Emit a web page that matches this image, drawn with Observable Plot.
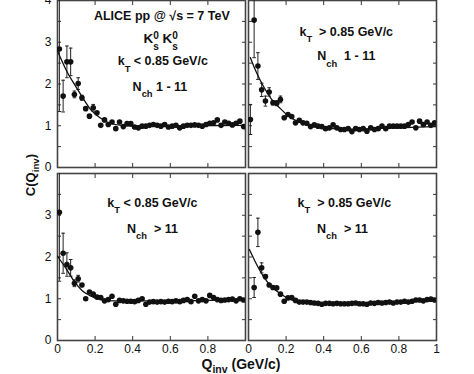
<!DOCTYPE html>
<html><head><meta charset="utf-8">
<script src="https://cdn.jsdelivr.net/npm/d3@7"></script>
<script src="https://cdn.jsdelivr.net/npm/@observablehq/plot@0.6"></script>
<style>
html,body{margin:0;padding:0;background:#fff;}
#chart{width:474px;height:374px;overflow:hidden;}
</style></head><body><div id="chart"></div>
<script>
// ---- data ----
const qBins = [0.01,0.03,0.05,0.07,0.09,0.11,0.13,0.15,0.17,0.19,0.21,0.23,0.25,0.27,0.29,0.31,0.33,0.35,0.37,0.39,0.41,0.43,0.45,0.47,0.49,0.51,0.53,0.55,0.57,0.59,0.61,0.63,0.65,0.67,0.69,0.71,0.73,0.75,0.77,0.79,0.81,0.83,0.85,0.87,0.89,0.91,0.93,0.95,0.97,0.99];

// kT < 0.85, Nch 1-11
const cTL = [2.84,1.71,2.53,2.53,1.75,2.01,1.67,1.41,1.23,1.43,1.31,1.01,1.14,1.03,1.09,0.93,1.09,0.98,1.05,1.05,0.97,0.95,0.99,0.99,1.01,1.03,1.01,0.99,1.03,0.97,0.99,1.01,0.95,0.99,1.01,1.01,1.02,1.01,0.99,1.03,1.06,1.07,1.14,1.01,1.09,1.06,1.02,1.06,1.11,0.98];
const eTL = [1.5,0.38,0.38,0.33,0.08,0.14,0.06,0.04,0.04,0.08];
// kT > 0.85, Nch 1-11
const cTR = [1.15,3.53,2.43,1.86,1.59,1.81,1.55,1.54,1.63,1.19,1.27,1.22,1.07,1.13,1.07,1.06,0.98,1.02,0.99,0.98,0.93,0.95,1.02,0.95,0.91,0.91,0.93,0.86,0.93,0.91,0.93,0.87,0.95,0.91,0.93,0.99,0.93,0.99,0.99,0.99,0.99,0.99,1.03,1.09,0.95,1.11,1.03,1.09,1.01,1.07];
const eTR = [0.36,0.9,0.32,0.16,0.12,0.1,0.05,0.06,0.08];
// kT < 0.85, Nch > 11
const cBL = [3.07,2.09,1.82,1.74,1.37,1.48,1.33,1.00,1.16,1.11,1.04,1.03,0.95,0.98,1.06,0.87,0.96,0.95,0.94,0.94,0.93,0.96,1.00,0.87,0.92,0.93,0.92,0.93,0.92,0.94,0.93,0.95,0.93,0.96,0.98,0.93,1.06,0.95,0.98,0.95,1.08,1.03,0.98,0.96,0.97,0.98,0.99,0.95,1.00,0.97];
const eBL = [1.65,0.48,0.28,0.2,0.08,0.08];
// kT > 0.85, Nch > 11
const cBR = [null,1.27,2.59,1.74,1.53,1.33,1.27,1.26,1.11,0.94,1.02,1.03,0.96,0.92,0.92,0.92,0.91,0.90,0.89,0.87,0.89,0.89,0.88,0.89,0.88,0.88,0.88,0.89,0.90,0.88,0.88,0.87,0.90,0.89,0.91,0.90,0.91,0.92,0.90,0.92,0.92,0.94,0.92,0.94,0.97,0.97,0.95,0.98,0.99,0.97];
const eBR = [0,0.24,0.34,0.12,0.05];

// fit curves
const fitQTL = [0,0.05,0.10,0.13,0.18,0.23,0.28,0.34,0.45,0.70,1.00];
const fitCTL = [2.79,2.30,1.92,1.70,1.37,1.18,1.06,1.01,0.99,1.00,1.01];
const fitQTR = [0.01,0.04,0.08,0.12,0.17,0.21,0.26,0.30,0.35,0.44,0.55,0.65,0.80,1.00];
const fitCTR = [2.63,2.30,1.94,1.65,1.41,1.24,1.11,1.03,0.98,0.93,0.92,0.93,0.95,0.98];
const fitQBL = [0,0.05,0.09,0.13,0.17,0.23,0.30,0.50,0.80,1.00];
const fitCBL = [2.02,1.69,1.41,1.20,1.08,0.98,0.95,0.95,0.96,0.97];
const fitQBR = [0.005,0.04,0.08,0.12,0.17,0.21,0.26,0.33,0.50,0.65,0.80,1.00];
const fitCBR = [2.18,1.85,1.53,1.30,1.12,1.01,0.94,0.91,0.90,0.90,0.93,0.96];

// panels & texts
const panelCol = ["lo","hi","lo","hi"];
const panelRow = ["a","a","b","b"];
const ktText = ["k_{T} < 0.85 GeV/c","k_{T}  > 0.85 GeV/c","k_{T} < 0.85 GeV/c","k_{T}  > 0.85 GeV/c"];
const nchText = ["N_{ch} 1 - 11","N_{ch}  1 - 11","N_{ch}  > 11","N_{ch}  > 11"];
const experimentText = ["ALICE pp @ √s = 7 TeV"];
const pairText = ["K^{0}_{s} K^{0}_{s}"];
const yTitle = "C(Q_{inv})";
const xTitle = "Q_{inv} (GeV/c)";

// ticks
const yLabelTicks = [0,1,2,3];
const yTopExtraLabel = [4];
const xLabelTicks = [0,0.2,0.4,0.6,0.8];
const xRightExtraLabel = [1];
const yMinorTicks = [0,0.5,1,1.5,2,2.5,3,3.5,4];
const xMinorTicks = [0,0.2,0.4,0.6,0.8,1];

// ---- tables ----
const panels = [
  {c:cTL,e:eTL,fq:fitQTL,fc:fitCTL},
  {c:cTR,e:eTR,fq:fitQTR,fc:fitCTR},
  {c:cBL,e:eBL,fq:fitQBL,fc:fitCBL},
  {c:cBR,e:eBR,fq:fitQBR,fc:fitCBR}
];
const rows = [], fitRows = [];
panels.forEach((p,k) => {
  qBins.forEach((q,i) => { if (p.c[i] != null) rows.push({col:panelCol[k], row:panelRow[k], q, c:p.c[i], e:p.e[i] || 0}); });
  p.fq.forEach((q,i) => fitRows.push({col:panelCol[k], row:panelRow[k], q, c:p.fc[i]}));
});
const errRows = rows.filter(d => d.e > 0);
const cap = {draw(ctx, size){ const w = Math.sqrt(size/Math.PI); ctx.moveTo(-w,0); ctx.lineTo(w,0); }};
const idx = [0,1,2,3];
const ktX = [0.56,0.52,0.505,0.51], ktY = [2.54,3.25,3.30,3.30];
const nchX = [0.545,0.52,0.505,0.50], nchY = [1.94,2.66,2.67,2.67];
const fmt = d3.format("~g");

const tickStyle = {stroke:"#333", strokeWidth:1, tickSize:4, tickFormat:() => "", label:null, facetAnchor:null};

const svg = Plot.plot({
  width:474, height:374, marginLeft:57, marginRight:38, marginTop:0, marginBottom:34,
  style:{fontFamily:"'Liberation Sans', Arial, sans-serif", fontSize:"12px", color:"#111", background:"white"},
  x:{domain:[0,1]},
  y:{domain:[0,4]},
  fx:{domain:["lo","hi"], paddingInner:3/191, paddingOuter:0, round:false, axis:null},
  fy:{domain:["a","b"], paddingInner:6/173, paddingOuter:0, round:false, axis:null},
  marks:[
    Plot.axisY({...tickStyle, anchor:"left", ticks:yMinorTicks, dx:4}),
    Plot.axisY({...tickStyle, anchor:"right", ticks:yMinorTicks, dx:-4}),
    Plot.axisX({...tickStyle, anchor:"bottom", ticks:xMinorTicks, dy:-4}),
    Plot.axisX({...tickStyle, anchor:"top", ticks:xMinorTicks, dy:4}),
    Plot.axisY({anchor:"left", ticks:yLabelTicks, tickFormat:fmt, tickSize:0, tickPadding:6, label:null}),
    Plot.axisX({anchor:"bottom", ticks:xLabelTicks, tickFormat:fmt, tickSize:0, tickPadding:4, label:null}),
    Plot.text(yTopExtraLabel, {y:d => d, text:d => fmt(d), fx:() => "lo", fy:() => "a", frameAnchor:"left", textAnchor:"end", dx:-6}),
    Plot.text(xRightExtraLabel, {x:d => d, text:d => fmt(d), fx:() => "hi", fy:() => "b", frameAnchor:"bottom", lineAnchor:"top", dy:4}),
    Plot.frame({stroke:"#444", strokeWidth:1.6}),
    Plot.ruleX(errRows, {x:"q", y1:d => d.c - d.e, y2:d => d.c + d.e, fx:"col", fy:"row", stroke:"#222", strokeWidth:1, clip:true}),
    Plot.dot(errRows, {x:"q", y:d => d.c + d.e, fx:"col", fy:"row", symbol:cap, r:1.8, stroke:"#222", strokeWidth:1, clip:true}),
    Plot.dot(errRows, {x:"q", y:d => d.c - d.e, fx:"col", fy:"row", symbol:cap, r:1.8, stroke:"#222", strokeWidth:1, clip:true}),
    Plot.line(fitRows, {x:"q", y:"c", fx:"col", fy:"row", curve:"monotone-x", stroke:"#111", strokeWidth:1.3, clip:true}),
    Plot.dot(rows, {x:"q", y:"c", fx:"col", fy:"row", r:2.8, fill:"#111", clip:true}),
    Plot.text(experimentText, {x:() => 0.555, y:() => 3.64, fx:() => "lo", fy:() => "a", text:d => d, fontWeight:"bold", fontSize:12.5}),
    Plot.text(pairText, {x:() => 0.457, y:() => 3.09, fx:() => "lo", fy:() => "a", text:d => d, textAnchor:"start", fontWeight:"bold", fontSize:13.5}),
    Plot.text(idx, {x:i => ktX[i], y:i => ktY[i], fx:i => panelCol[i], fy:i => panelRow[i], text:i => ktText[i], fontWeight:"bold", fontSize:12.5}),
    Plot.text(idx, {x:i => nchX[i], y:i => nchY[i], fx:i => panelCol[i], fy:i => panelRow[i], text:i => nchText[i], fontWeight:"bold", fontSize:12.5})
  ]
});
document.getElementById("chart").appendChild(svg);

const ns = "http://www.w3.org/2000/svg";
d3.select(svg).append("text").attr("class","title").attr("transform","translate(35,175) rotate(-90)")
  .attr("text-anchor","middle").attr("font-weight","bold").attr("font-size",13).attr("fill","#111").text(yTitle);
d3.select(svg).append("text").attr("class","title").attr("x",241).attr("y",369)
  .attr("text-anchor","middle").attr("font-weight","bold").attr("font-size",14).attr("fill","#111").text(xTitle);

function rich(el, str, subShift) {
  const base = parseFloat(getComputedStyle(el).fontSize) || 12;
  el.textContent = "";
  el.style.whiteSpace = "pre";
  const re = /([_^])\{([^}]*)\}|([^_^]+)/g;
  let shift = 0, m, prevSup = null;
  while ((m = re.exec(str))) {
    const t = document.createElementNS(ns, "tspan");
    const target = m[1] === "_" ? subShift * base : m[1] === "^" ? -0.3 * base : 0;
    const dy = target - shift; shift = target;
    if (dy) t.setAttribute("dy", dy);
    if (m[1]) t.setAttribute("font-size", 0.75 * base);
    t.textContent = m[1] ? m[2] : m[3];
    el.appendChild(t);
    if (m[1] === "_" && prevSup) t.setAttribute("dx", -prevSup.getComputedTextLength());
    prevSup = m[1] === "^" ? t : null;
  }
}
svg.querySelectorAll("text").forEach(el => {
  const s = el.textContent;
  if (/[_^]\{/.test(s)) rich(el, s, el.classList.contains("title") ? 0.3 : 0.5);
});
</script></body></html>
